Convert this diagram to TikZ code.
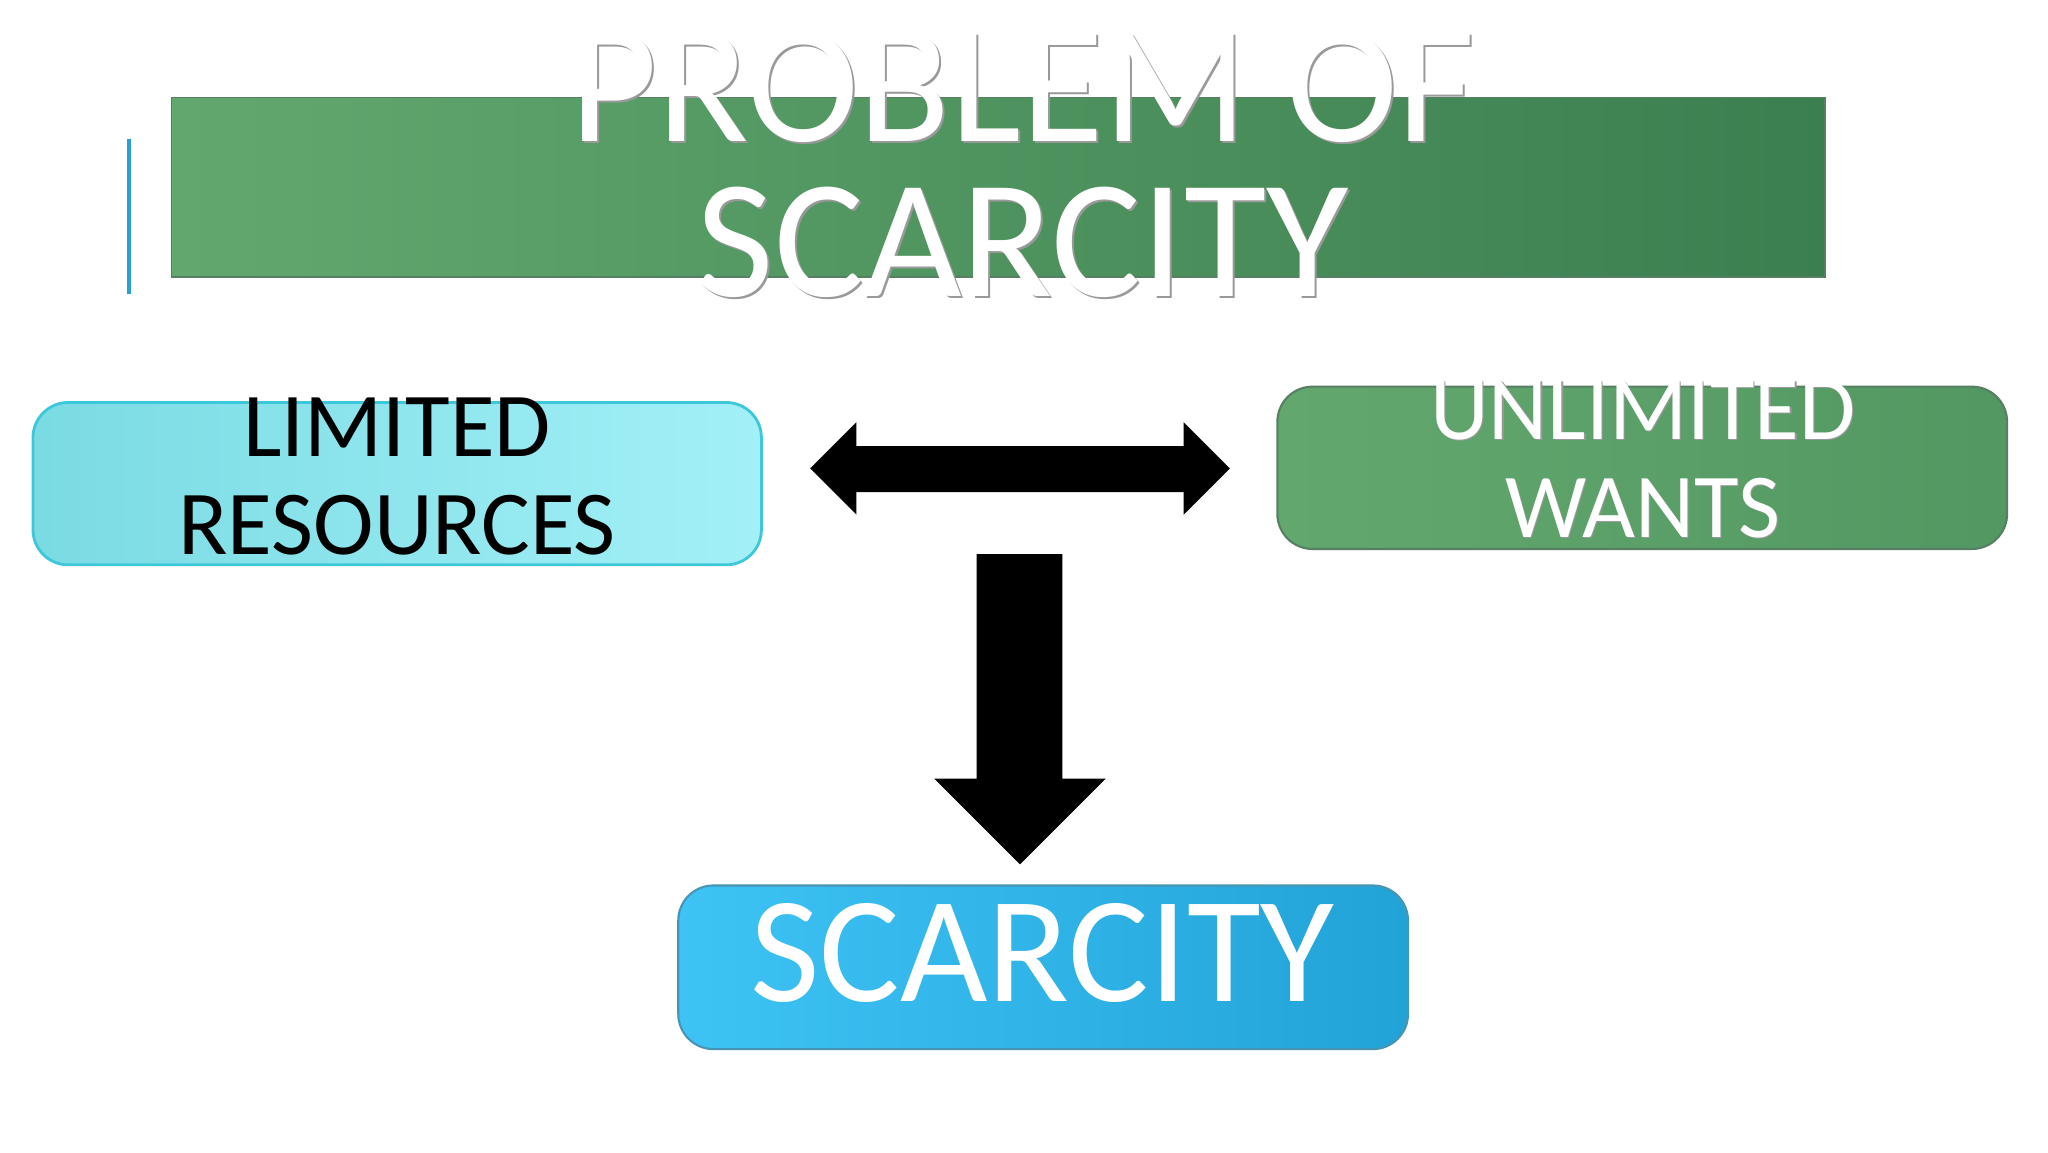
\documentclass[tikz,border=0pt]{standalone}
\usepackage{fontspec}
\setmainfont{Carlito}
\definecolor{gA}{HTML}{62A86E}
\definecolor{gB}{HTML}{3B7F50}
\definecolor{cA}{HTML}{7ADBE3}
\definecolor{cB}{HTML}{A3F0F7}
\definecolor{cE}{HTML}{3CC8DA}
\definecolor{bA}{HTML}{3EC3F5}
\definecolor{bB}{HTML}{22A3D8}
\definecolor{lineblue}{HTML}{2A9FD6}
\begin{document}
\begin{tikzpicture}[x=0.0132cm,y=-0.0132cm,
  boxr/.style={rounded corners=10pt},
  titlefont/.style={align=center,font=\fontsize{48}{44}\selectfont},
  wtext/.style={text=white,align=center,font=\fontsize{26}{28}\selectfont}]
\useasboundingbox[fill=white] (0,0) rectangle (1552,873);
% title bar
\shade[left color=gA,right color=gB,draw=gB!60!gray] (130,74) rectangle (1383,210);
\node (bar) at (756,142) {};
\draw[lineblue,line width=1.2pt] (98,105) -- (98,223);
\node[titlefont,text=black!40] at (776.5,126.5) {PROBLEM OF\\SCARCITY};
\node[titlefont,text=white] (title) at (775,125) {PROBLEM OF\\SCARCITY};
% limited resources
\shade[boxr,left color=cA,right color=cB,draw=cE,line width=0.8pt] (25,305) rectangle (577,428);
\node[align=center,font=\fontsize{26}{28}\selectfont] (lim) at (301,361) {LIMITED\\RESOURCES};
% unlimited wants
\shade[boxr,left color=gA,right color=gA!60!gB,draw=gB!60!gray,line width=0.6pt] (968,293) rectangle (1521,416);
\node[wtext,text=black!40] at (1246,349) {UNLIMITED\\WANTS};
\node[wtext] (unl) at (1245,348) {UNLIMITED\\WANTS};
% scarcity box
\shade[boxr,left color=bA,right color=bB,draw=bB!60!gray,line width=0.6pt] (514,671) rectangle (1067,795);
\node[text=white,font=\fontsize{43}{44}\selectfont] (sc) at (790,722) {SCARCITY};
% double arrow
\fill[black] (614,355) -- (649,320) -- (649,338) -- (897,338) -- (897,320) -- (932,355) -- (897,390) -- (897,373) -- (649,373) -- (649,390) -- cycle;
% down arrow
\fill[black] (740,420) -- (805,420) -- (805,590) -- (838,590) -- (773,655) -- (708,590) -- (740,590) -- cycle;
\end{tikzpicture}
\end{document}
